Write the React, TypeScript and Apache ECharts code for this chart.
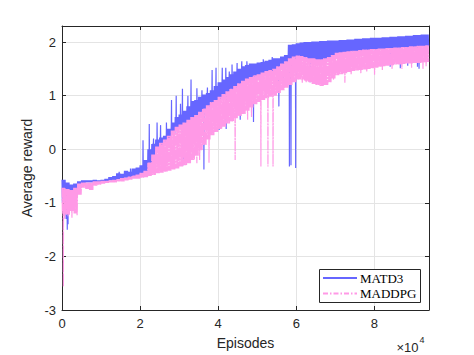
import React, { useEffect, useRef } from "react";
import * as echarts from "echarts";

// Each value below covers one 1000-episode bin: bin k spans episodes [k*1000, k*1000+1000)
const BIN_SIZE = 1000;

// MATD3 band (upper / lower envelope of the noisy reward in each bin)
const matd3Upper = [
  -0.57, -0.62, -0.66, -0.64, -0.6, -0.58, -0.58, -0.58, -0.57, -0.58,
  -0.57, -0.55, -0.52, -0.5, -0.45, -0.46, -0.4, -0.42, -0.36, -0.34,
  -0.3, -0.2, 0.0, 0.1, 0.18, 0.22, 0.25, 0.38, 0.5, 0.6,
  0.65, 0.72, 0.8, 0.9, 0.92, 0.98, 1.02, 1.05, 1.1, 1.18,
  1.25, 1.3, 1.35, 1.4, 1.45, 1.5, 1.55, 1.57, 1.6, 1.6,
  1.62, 1.63, 1.65, 1.67, 1.7, 1.7, 1.73, 1.76, 1.95, 1.96,
  1.98, 1.99, 2.0, 2.0, 2.01, 2.01, 2.02, 2.02, 2.03, 2.03,
  2.03, 2.04, 2.04, 2.05, 2.05, 2.06, 2.06, 2.07, 2.07, 2.08,
  2.08, 2.08, 2.09, 2.09, 2.1, 2.1, 2.11, 2.11, 2.12, 2.12,
  2.13, 2.13, 2.14, 2.14,
];
const matd3Lower = [
  -1.0, -0.9, -0.8, -0.75, -0.68, -0.64, -0.62, -0.62, -0.61, -0.62,
  -0.6, -0.6, -0.58, -0.58, -0.56, -0.55, -0.53, -0.52, -0.5, -0.48,
  -0.46, -0.45, -0.3, -0.15, 0.0, 0.08, 0.14, 0.2, 0.3, 0.38,
  0.42, 0.46, 0.5, 0.55, 0.6, 0.66, 0.72, 0.78, 0.84, 0.88,
  0.94, 1.0, 1.05, 1.1, 1.15, 1.2, 1.25, 1.29, 1.32, 1.35,
  1.37, 1.4, 1.43, 1.45, 1.47, 1.52, 1.56, 1.6, 1.66, 1.7,
  1.7, 1.7, 1.68, 1.67, 1.67, 1.66, 1.66, 1.68, 1.7, 1.73,
  1.77, 1.78, 1.79, 1.8, 1.81, 1.82, 1.83, 1.84, 1.84, 1.85,
  1.85, 1.86, 1.86, 1.87, 1.87, 1.88, 1.88, 1.89, 1.89, 1.9,
  1.9, 1.91, 1.91, 1.92,
];
// MATD3 isolated spikes / dips: [episode, reward]
const matd3Spikes: [number, number][] = [
  [1000, -1.3], [1300, -1.5], [1500, -1.4], [14600, -0.42], [17500, -0.36],
  [20700, 0.17], [22300, 0.47], [23400, 0.2], [24300, 0.5], [25200, 0.45],
  [26700, 0.5], [28000, 0.92], [29200, 1.0], [30300, 0.85], [30800, 1.13],
  [31000, -0.3], [32200, 1.0], [33000, 1.3], [34500, 1.14], [35800, 1.1],
  [36300, -0.38], [37200, 1.15], [38400, 1.48], [39400, 1.52], [40200, 0.36],
  [41000, 1.52], [41900, 1.52], [42000, 0.38], [42800, 1.45], [43500, 1.58],
  [44800, 1.61], [45600, 0.55], [46000, 1.64], [47300, 1.64], [49000, 0.51],
  [51500, 1.68], [53800, 1.72], [55500, 0.8], [56600, 1.15], [58200, -0.32],
  [58600, -0.3], [59800, -0.35], [63500, 1.25], [71200, 1.56], [75000, 1.54],
  [84000, 1.54], [86600, 1.51], [88500, 1.56], [91000, 1.54], [91400, 1.5],
];

// MADDPG band
const maddpgUpper = [
  -0.72, -0.74, -0.76, -0.72, -0.64, -0.62, -0.62, -0.62, -0.6, -0.6,
  -0.59, -0.59, -0.58, -0.57, -0.56, -0.54, -0.53, -0.51, -0.49, -0.47,
  -0.44, -0.4, -0.25, -0.1, 0.05, 0.12, 0.18, 0.25, 0.35, 0.42,
  0.46, 0.5, 0.55, 0.6, 0.64, 0.7, 0.76, 0.82, 0.88, 0.92,
  0.98, 1.03, 1.08, 1.13, 1.18, 1.23, 1.28, 1.32, 1.35, 1.38,
  1.4, 1.43, 1.46, 1.48, 1.5, 1.55, 1.6, 1.64, 1.7, 1.73,
  1.75, 1.74, 1.72, 1.7, 1.7, 1.68, 1.68, 1.7, 1.72, 1.76,
  1.8, 1.81, 1.82, 1.83, 1.84, 1.84, 1.85, 1.86, 1.86, 1.87,
  1.87, 1.88, 1.88, 1.89, 1.89, 1.9, 1.9, 1.91, 1.91, 1.92,
  1.92, 1.93, 1.93, 1.94,
];
const maddpgLower = [
  -1.2, -1.22, -1.15, -1.2, -0.85, -0.72, -0.74, -0.76, -0.68, -0.66,
  -0.64, -0.63, -0.62, -0.62, -0.6, -0.6, -0.58, -0.57, -0.55, -0.55,
  -0.53, -0.52, -0.5, -0.48, -0.45, -0.44, -0.42, -0.4, -0.38, -0.36,
  -0.32, -0.3, -0.26, -0.2, -0.12, -0.02, 0.08, 0.18, 0.26, 0.32,
  0.38, 0.42, 0.48, 0.52, 0.58, 0.62, 0.66, 0.72, 0.78, 0.84,
  0.88, 0.92, 0.95, 0.98, 1.0, 1.05, 1.1, 1.15, 1.2, 1.25,
  1.3, 1.3, 1.28, 1.25, 1.22, 1.2, 1.18, 1.2, 1.25, 1.32,
  1.38, 1.4, 1.42, 1.44, 1.46, 1.47, 1.48, 1.49, 1.5, 1.51,
  1.52, 1.54, 1.55, 1.56, 1.57, 1.58, 1.58, 1.59, 1.6, 1.6,
  1.61, 1.61, 1.62, 1.63,
];
const maddpgSpikes: [number, number][] = [
  [300, -2.57], [600, -1.3], [1500, -1.25], [2500, -1.28], [3800, -1.23],
  [7000, -0.76], [7800, -0.74], [34500, -0.26], [35200, -0.2], [37600, -0.25],
  [44300, -0.2], [47500, 0.55], [48500, 0.6], [50900, -0.32], [52700, -0.32],
  [54000, -0.32], [58500, 1.3], [60500, 1.35], [61500, 1.24], [62500, 1.25],
  [64000, 1.3], [65000, 1.2], [66500, 1.17], [68000, 1.2], [69500, 1.3],
  [72400, 1.24], [74000, 1.4], [76500, 1.42], [78000, 1.45], [80000, 1.39],
  [82000, 1.48], [84500, 1.5], [87000, 1.5], [89500, 1.52], [92400, 1.5],
  [93200, 1.55],
];

const xTickValues = [0, 2, 4, 6, 8]; // ×10^4
const yTickValues = [-3, -2, -1, 0, 1, 2];

const BLUE = "#6666ff";
const PINK = "#ff99e6";
const AXIS = "#262626";
const SANS = "'Liberation Sans', Arial, Helvetica, sans-serif";
const SERIF = "'Liberation Serif', 'Times New Roman', serif";

function buildSeries(upper: number[], lower: number[], spikes: [number, number][]) {
  const pts: [number, number][] = [];
  upper.forEach((u, i) => {
    const e = i * BIN_SIZE;
    for (let k = 0; k < 10; k++) {
      pts.push([e + k * 100, k % 2 === 0 ? u : lower[i]]);
    }
  });
  spikes.forEach((s) => pts.push([s[0] + 50, s[1]]));
  pts.sort((a, b) => a[0] - b[0]);
  return pts;
}

export default function App() {
  const ref = useRef<HTMLDivElement>(null);
  useEffect(() => {
    if (!ref.current) return;
    const chart = echarts.init(ref.current, undefined, { renderer: "svg" });
    const xFmt = (v: number) => (xTickValues.includes(v / 10000) ? String(v / 10000) : "");
    const yFmt = (v: number) => {
      const r = Math.round(v);
      return Math.abs(v - r) < 1e-6 && yTickValues.includes(r) ? String(r) : "";
    };
    const tick = { show: true, inside: true, length: 4, lineStyle: { color: AXIS, width: 1 } };
    const line = { show: true, onZero: false, lineStyle: { color: AXIS, width: 1 } };
    const split = { show: true, lineStyle: { color: "#e4e4e4", width: 1 } };
    chart.setOption({
      animation: false,
      backgroundColor: "#fff",
      grid: { left: 62, right: 45, top: 26, bottom: 45, containLabel: false },
      xAxis: [
        {
          type: "value", min: 0, max: 94000, interval: 20000, position: "bottom",
          axisLine: line, axisTick: tick, splitLine: split,
          axisLabel: { formatter: xFmt, color: AXIS, fontSize: 13, fontFamily: SANS, margin: 7 },
          name: "Episodes", nameLocation: "middle", nameGap: 26,
          nameTextStyle: { color: AXIS, fontSize: 14, fontFamily: SANS },
        },
        {
          type: "value", min: 0, max: 94000, interval: 20000, position: "top",
          axisLine: line, axisTick: tick, splitLine: { show: false }, axisLabel: { show: false },
        },
      ],
      yAxis: [
        {
          type: "value", min: -3, max: 2.3, interval: 1, position: "left",
          axisLine: line, axisTick: tick, splitLine: split,
          axisLabel: { formatter: yFmt, color: AXIS, fontSize: 13, fontFamily: SANS, margin: 6 },
          name: "Average reward", nameLocation: "middle", nameGap: 22, nameRotate: 90,
          nameTextStyle: { color: AXIS, fontSize: 14, fontFamily: SANS },
        },
        {
          type: "value", min: -3, max: 2.3, interval: 1, position: "right",
          axisLine: line, axisTick: tick, splitLine: { show: false }, axisLabel: { show: false },
        },
      ],
      series: [
        {
          name: "MATD3", type: "line", xAxisIndex: 0, yAxisIndex: 0,
          data: buildSeries(matd3Upper, matd3Lower, matd3Spikes),
          showSymbol: false, symbol: "none",
          lineStyle: { color: BLUE, width: 1.2 }, z: 2,
        },
        {
          name: "MADDPG", type: "line", xAxisIndex: 0, yAxisIndex: 0,
          data: buildSeries(maddpgUpper, maddpgLower, maddpgSpikes),
          showSymbol: false, symbol: "none",
          lineStyle: { color: PINK, width: 1.2, type: [10, 1, 2, 1] }, z: 3,
        },
      ],
      graphic: [
        {
          type: "text", x: 396.5, y: 347, z: 10,
          style: { text: "×10", fill: AXIS, fontSize: 13, fontFamily: SANS, verticalAlign: "middle", align: "left" },
        },
        {
          type: "text", x: 419.5, y: 339.5, z: 10,
          style: { text: "4", fill: AXIS, fontSize: 9, fontFamily: SANS, verticalAlign: "middle", align: "left" },
        },
        {
          type: "rect", z: 100,
          shape: { x: 319.5, y: 269.5, width: 101, height: 33 },
          style: { fill: "#fff", stroke: AXIS, lineWidth: 1 },
        },
        {
          type: "line", z: 101,
          shape: { x1: 323, y1: 278, x2: 357, y2: 278 },
          style: { stroke: BLUE, lineWidth: 2 },
        },
        {
          type: "line", z: 101,
          shape: { x1: 323, y1: 293.5, x2: 357, y2: 293.5 },
          style: { stroke: PINK, lineWidth: 2, lineDash: [5, 2, 1.5, 2] },
        },
        {
          type: "text", x: 360, y: 278, z: 101,
          style: { text: "MATD3", fill: "#000", fontSize: 13, fontFamily: SERIF, verticalAlign: "middle", align: "left" },
        },
        {
          type: "text", x: 360, y: 293.5, z: 101,
          style: { text: "MADDPG", fill: "#000", fontSize: 13, fontFamily: SERIF, verticalAlign: "middle", align: "left" },
        },
      ],
    });
    return () => chart.dispose();
  }, []);
  return (
    <div
      ref={ref}
      style={{ position: "fixed", left: 0, top: 0, width: 474, height: 355, background: "#fff" }}
    />
  );
}
